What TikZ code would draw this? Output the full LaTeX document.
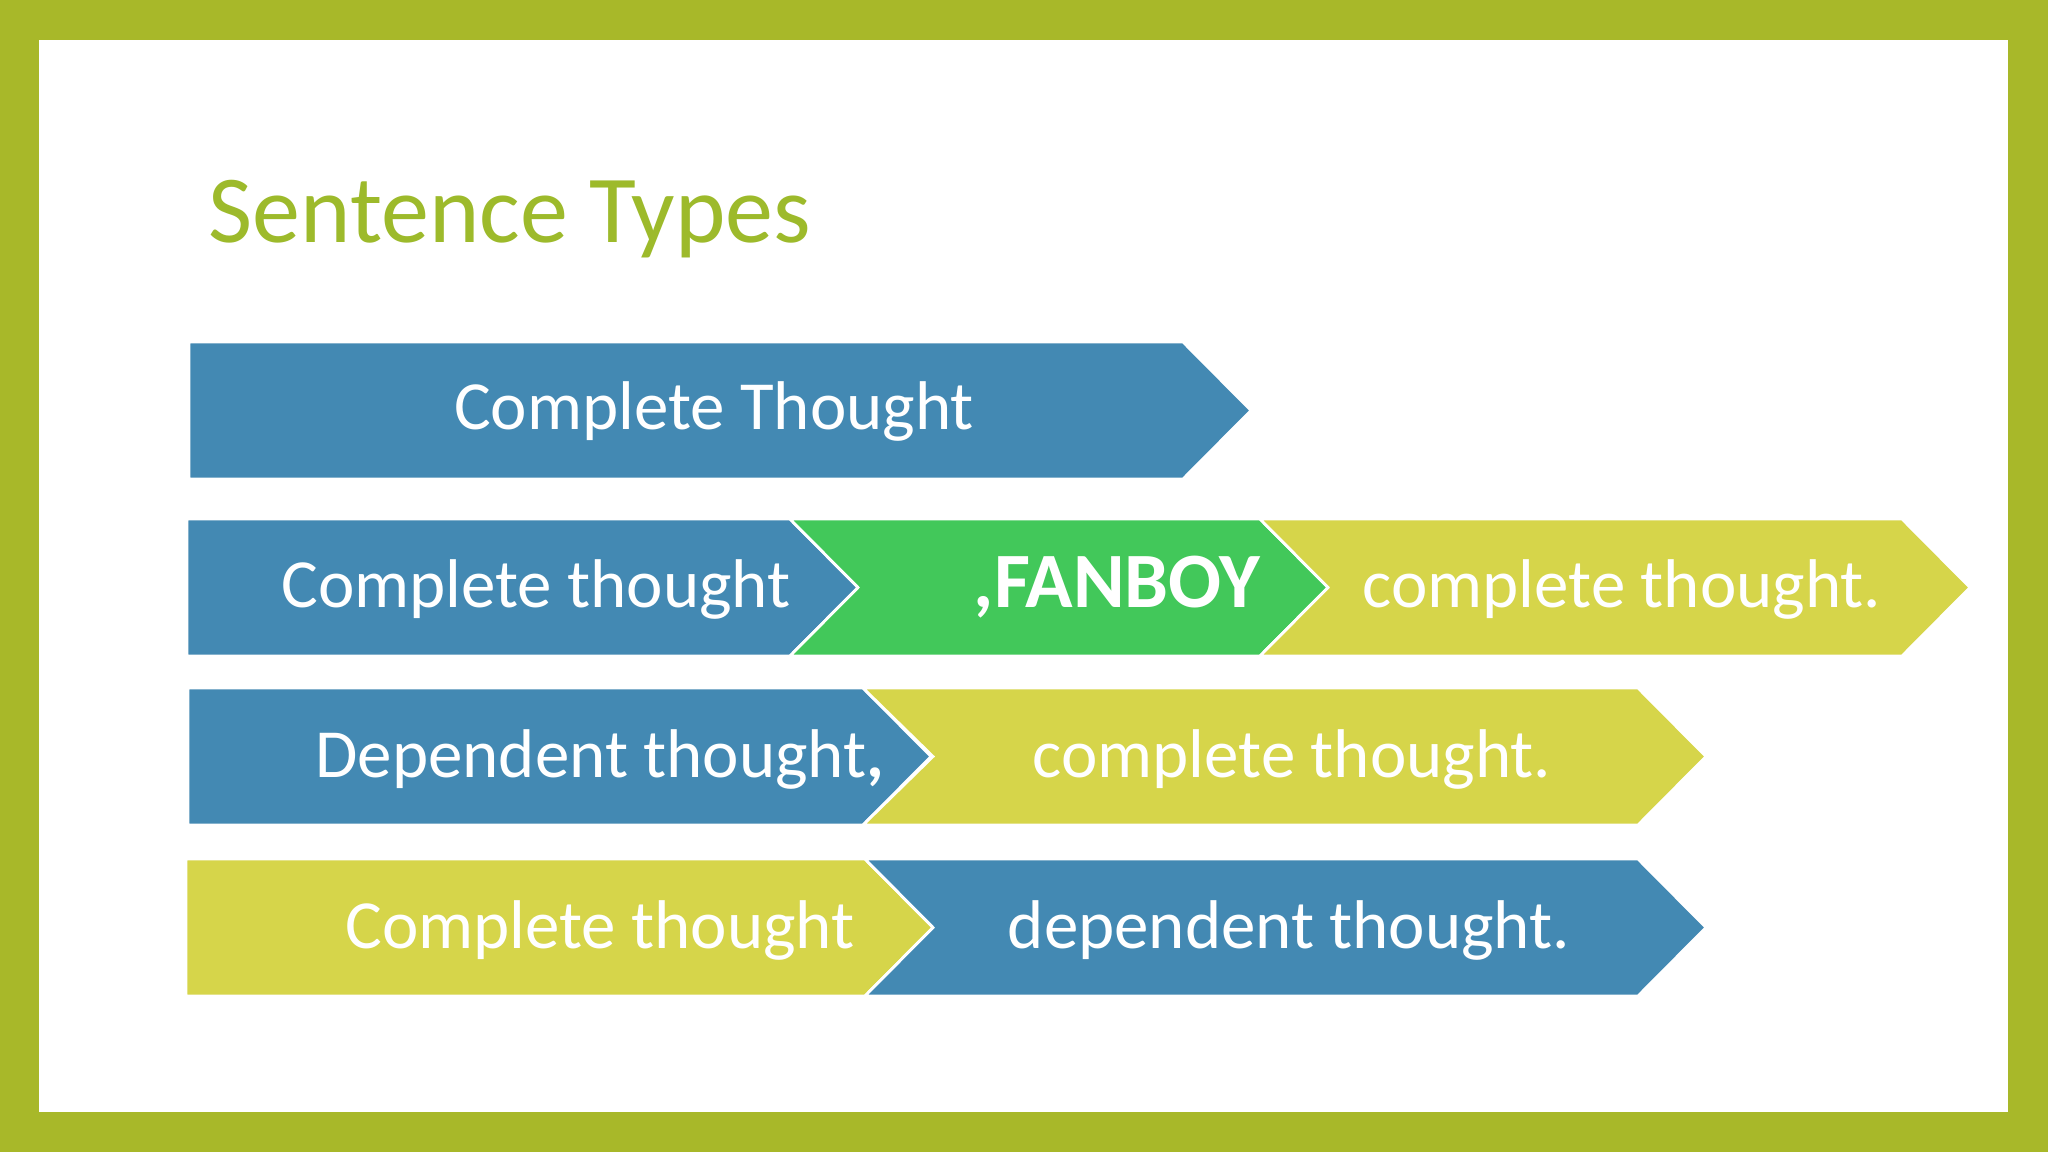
\documentclass[tikz,border=0pt]{standalone}
\usepackage{fontspec}
\setmainfont{Carlito}
\usepackage{xcolor}
\usepackage{tikz}

\definecolor{framegreen}{HTML}{A8B829}
\definecolor{titlegreen}{HTML}{9DBA2B}
\definecolor{bandblue}{HTML}{4389B3}
\definecolor{bandgreen}{HTML}{42C85A}
\definecolor{bandyellow}{HTML}{D6D54A}

% chevron band: #1 style, #2 left x, #3 right x of body, #4 top y, #5 notch depth
\newcommand{\band}[5]{%
  \filldraw[#1] (#2,#4) -- (#3,#4) -- (#3+68,#4+68.5) -- (#3,#4+137)
    -- (#2,#4+137) -- (#2+#5,#4+68.5) -- cycle;}

\begin{document}
\begin{tikzpicture}[
    x=0.01cm, y=-0.01cm,
    band_base/.style={draw=white, line width=0.8pt},
    blue_band/.style={band_base, fill=bandblue},
    green_band/.style={band_base, fill=bandgreen},
    yellow_band/.style={band_base, fill=bandyellow},
    band_text/.style={text=white, anchor=base, inner sep=0pt,
        font=\fontsize{19.6}{23}\selectfont},
    title_text/.style={text=titlegreen, anchor=base west, inner sep=0pt,
        font=\fontsize{27.3}{32}\selectfont}
]
\useasboundingbox (0,0) rectangle (2048,1152);

% frame
\fill[framegreen] (0,0) rectangle (2048,1152);
\fill[white] (39,40) rectangle (2008,1112);

\node (title) [title_text] at (208,243) {Sentence Types};

% row 1
\band{blue_band}{189}{1183}{342}{0}
\node (r1a) [band_text] at (714,430) {Complete Thought};

% row 2
\band{blue_band}{187}{790}{519}{0}
\band{green_band}{790}{1260}{519}{68}
\band{yellow_band}{1260}{1902}{519}{68}
\node (r2a) [band_text] at (536,607) {Complete thought};
\node (r2b) [band_text, font=\fontsize{22.3}{26}\selectfont\bfseries] at (1117,607) {,FANBOY};
\node (r2c) [band_text] at (1622,607) {complete thought.};

% row 3
\band{blue_band}{188}{863}{688}{0}
\band{yellow_band}{863}{1638}{688}{70}
\node (r3a) [band_text] at (600,777) {Dependent thought{\bfseries,}};
\node (r3b) [band_text] at (1292,777) {complete thought.};

% row 4
\band{yellow_band}{186}{865}{859}{0}
\band{blue_band}{865}{1638}{859}{68}
\node (r4a) [band_text] at (600,948) {Complete thought};
\node (r4b) [band_text] at (1289,948) {dependent thought.};

\end{tikzpicture}
\end{document}
